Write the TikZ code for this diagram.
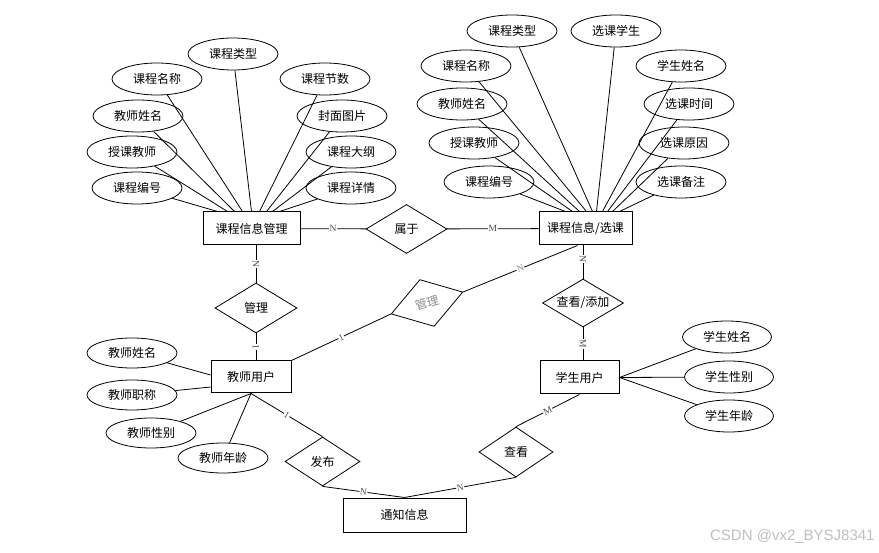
\documentclass[tikz,border=0pt]{standalone}
\usepackage{fontspec}
\setmainfont{Noto Sans CJK SC}
\newfontfamily\labfont{Liberation Serif}
\newfontfamily\wmfont{Liberation Sans}
\usetikzlibrary{shapes.geometric}

\begin{document}
\begin{tikzpicture}[x=1pt,y=-1pt,line width=0.8pt,
    entity/.style={draw,rectangle,line width=1pt,minimum height=33pt,inner sep=0pt,font=\fontsize{12}{14}\selectfont},
    attr/.style={draw,ellipse,minimum width=90pt,minimum height=32pt,inner sep=0pt,font=\fontsize{12}{14}\selectfont},
    rel/.style={draw,diamond,aspect=1.65,minimum width=81pt,minimum height=49pt,inner sep=0pt,font=\fontsize{12}{14}\selectfont},
    card/.style={sloped,fill=white,inner sep=0.6pt,text=black!70,font=\labfont\fontsize{9.5}{9.5}\selectfont}]
    \useasboundingbox (0,0) rectangle (879,553);

    % 实体
    \node[entity,minimum width=97pt] (glxx) at (251.5,228.5) {课程信息管理};
    \node[entity,minimum width=93pt] (kcxk) at (585.5,228.5) {课程信息/选课};
    \node[entity,minimum width=80pt,minimum height=32pt] (jsyh) at (251,377) {教师用户};
    \node[entity,minimum width=79pt] (xsyh) at (579.5,377.5) {学生用户};
    \node[entity,minimum width=123pt,minimum height=34pt] (tzxx) at (404.5,515) {通知信息};

    % 联系
    \node[rel] (sy) at (406.5,229) {属于};
    \node[rel,minimum width=82pt,minimum height=50pt] (gl1) at (256,308) {管理};
    \node[rel,rotate=17,minimum width=75pt,text=black!45] (gl2) at (427,303) {管理};
    \node[rel,minimum height=48pt] (cktj) at (583,303) {查看/添加};
    \node[rel,minimum width=75pt] (fb) at (322.5,461.5) {发布};
    \node[rel,minimum width=74pt,minimum height=50pt] (ck) at (516,452) {查看};

    % 课程信息管理的属性
    \node[attr] (kcbh) at (137,188) {课程编号};
    \node[attr] (skjs) at (132,152) {授课教师};
    \node[attr] (jsxm) at (138,116) {教师姓名};
    \node[attr] (kcmc) at (157,79) {课程名称};
    \node[attr] (kclx) at (233,54) {课程类型};
    \node[attr] (kcjs) at (325,79) {课程节数};
    \node[attr] (fmtp) at (342,116) {封面图片};
    \node[attr] (kcdg) at (351,152) {课程大纲};
    \node[attr] (kcxq) at (351,188) {课程详情};
    \foreach \n/\d in {kcbh/15,skjs/25,jsxm/32,kcmc/40,kclx/49,kcjs/57,fmtp/64,kcdg/70,kcxq/77}
        \draw ([xshift=\d pt]glxx.north west) -- (\n);

    % 课程信息/选课的属性
    \node[attr] (rkcbh) at (489,182) {课程编号};
    \node[attr] (rskjs) at (474,143) {授课教师};
    \node[attr] (rjsxm) at (462,104) {教师姓名};
    \node[attr] (rkcmc) at (466,66) {课程名称};
    \node[attr] (rkclx) at (512,31) {课程类型};
    \node[attr] (xkxs) at (616,31) {选课学生};
    \node[attr] (xsxm) at (681,66) {学生姓名};
    \node[attr] (xksj) at (689,104) {选课时间};
    \node[attr] (xkyy) at (684,143) {选课原因};
    \node[attr] (xkbz) at (681,182) {选课备注};
    \foreach \n/\d in {rkcbh/27,rskjs/34,rjsxm/41,rkcmc/48,rkclx/54,xkxs/58,xsxm/64,xksj/69,xkyy/74,xkbz/81}
        \draw ([xshift=\d pt]kcxk.north west) -- (\n);

    % 教师用户的属性
    \node[attr,minimum height=30pt] (jsxm2) at (132,353) {教师姓名};
    \node[attr,minimum height=30pt] (jszc) at (132,395) {教师职称};
    \node[attr,minimum height=30pt] (jsxb) at (151,433) {教师性别};
    \node[attr,minimum height=30pt] (jsnl) at (223,458) {教师年龄};
    \draw ([yshift=2pt]jsyh.west) -- (jsxm2);
    \draw ([yshift=-10pt]jsyh.west) -- (jszc);
    \draw (jsyh.south) -- (jsxb);
    \draw (jsyh.south) -- (jsnl);

    % 学生用户的属性
    \node[attr,minimum width=89pt] (xsxm2) at (727,337) {学生姓名};
    \node[attr,minimum width=89pt] (xsxb) at (729,377) {学生性别};
    \node[attr,minimum width=89pt] (xsnl) at (729,416) {学生年龄};
    \draw (xsyh.east) -- (xsxm2);
    \draw (xsyh.east) -- (xsxb);
    \draw (xsyh.east) -- (xsnl);

    % 联系的连线
    \draw (glxx) -- (sy) node[card,midway]{N};
    \draw (sy) -- (kcxk) node[card,midway]{M};
    \draw (glxx.south -| gl1.north) -- (gl1.north) node[card,midway]{N};
    \draw (gl1.south) -- (gl1.south |- jsyh.north) node[card,midway]{1};
    \draw (jsyh.north east) -- (gl2.west) node[card,midway]{1};
    \draw (gl2.east) -- ([xshift=39pt]kcxk.south west) node[card,midway,text=black!45]{N};
    \draw (kcxk.south -| cktj.north) -- (cktj.north) node[card,pos=0.4]{N};
    \draw (cktj.south) -- (cktj.south |- xsyh.north) node[card,midway]{M};
    \draw (xsyh.south) -- (ck.north) node[card,midway]{M};
    \draw (ck.south) -- (tzxx.north) node[card,midway]{N};
    \draw (jsyh.south) -- (fb.north) node[card,midway]{1};
    \draw (fb.south) -- (tzxx.north) node[card,midway]{N};

    % 水印
    \node[anchor=east,inner sep=0pt,text=black!25,font=\wmfont\fontsize{15}{17}\selectfont] (wm) at (875,537) {CSDN @vx2\_BYSJ8341};
\end{tikzpicture}
\end{document}
